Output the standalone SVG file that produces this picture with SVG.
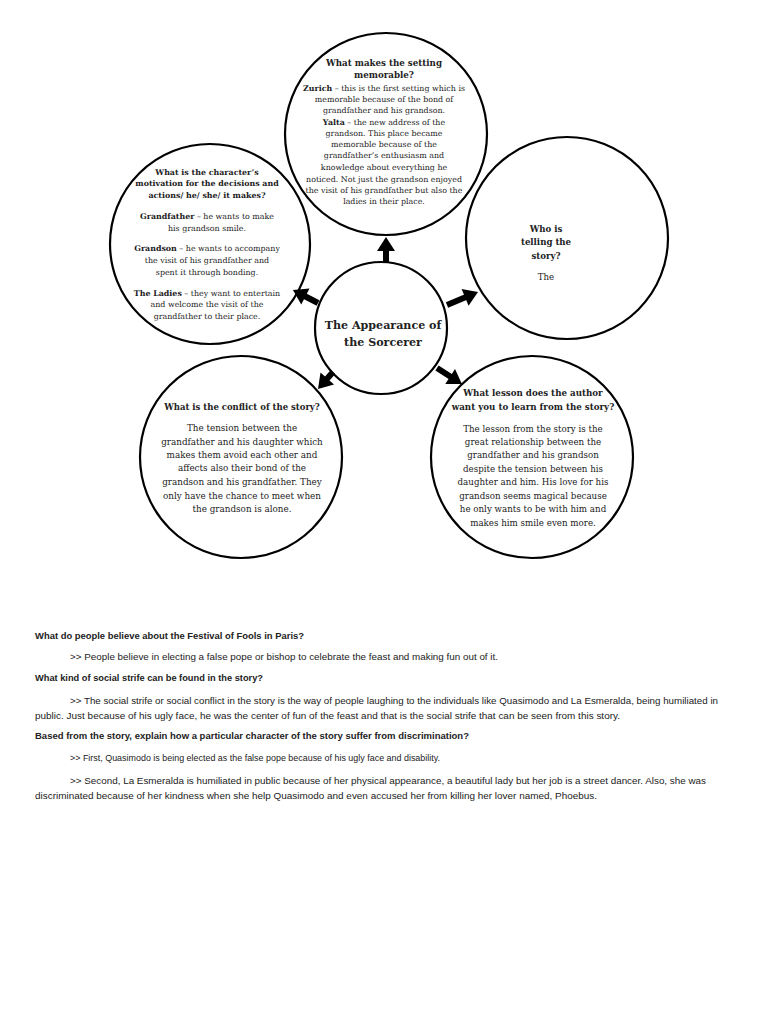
<svg xmlns="http://www.w3.org/2000/svg" width="768" height="1024" viewBox="0 0 768 1024">
<style>
.c{fill:#fff;stroke:#000;stroke-width:2.2}
.t{font-family:"DejaVu Serif","Liberation Serif",serif;fill:#222;text-anchor:middle}
.b{font-weight:bold}
.a{stroke:#000;stroke-width:6;fill:none;marker-end:url(#ah)}
.s{font-family:"Liberation Sans",Arial,sans-serif;font-size:8.2px;fill:#222}
</style>
<defs>
<marker id="ah" markerUnits="userSpaceOnUse" markerWidth="15" markerHeight="18" refX="1" refY="9" orient="auto" overflow="visible">
<path d="M0,0 L14,9 L0,18 Z" fill="#000"/>
</marker>
</defs>
<rect width="768" height="1024" fill="#fff"/>
<g id="setting">
<circle class="c" cx="386" cy="134" r="101"/>
<g class="t b" font-size="8.7">
<text x="384" y="66">What makes the setting</text>
<text x="384" y="78">memorable?</text>
</g>
<g class="t" font-size="7.9">
<text x="384" y="91"><tspan class="b">Zurich</tspan> – this is the first setting which is</text>
<text x="384" y="102">memorable because of the bond of</text>
<text x="384" y="113">grandfather and his grandson.</text>
<text x="384" y="125"><tspan class="b">Yalta</tspan> – the new address of the</text>
<text x="384" y="136">grandson. This place became</text>
<text x="384" y="147">memorable because of the</text>
<text x="384" y="158">grandfather’s enthusiasm and</text>
<text x="384" y="170">knowledge about everything he</text>
<text x="384" y="182">noticed. Not just the grandson enjoyed</text>
<text x="384" y="193">the visit of his grandfather but also the</text>
<text x="384" y="204">ladies in their place.</text>
</g>
</g>
<g id="motivation">
<circle class="c" cx="210" cy="244" r="100"/>
<g class="t b" font-size="7.9">
<text x="207" y="175">What is the character’s</text>
<text x="207" y="186">motivation for the decisions and</text>
<text x="207" y="198">actions/ he/ she/ it makes?</text>
</g>
<g class="t" font-size="7.9">
<text x="207" y="219"><tspan class="b">Grandfather</tspan> – he wants to make</text>
<text x="207" y="231">his grandson smile.</text>
<text x="207" y="251"><tspan class="b">Grandson</tspan> – he wants to accompany</text>
<text x="207" y="263">the visit of his grandfather and</text>
<text x="207" y="275">spent it through bonding.</text>
<text x="207" y="296"><tspan class="b">The Ladies</tspan> – they want to entertain</text>
<text x="207" y="307">and welcome the visit of the</text>
<text x="207" y="319">grandfather to their place.</text>
</g>
</g>
<g id="narrator">
<circle class="c" cx="567" cy="238" r="101"/>
<g class="t b" font-size="8.6">
<text x="546" y="232">Who is</text>
<text x="546" y="245">telling the</text>
<text x="546" y="259">story?</text>
</g>
<text class="t" font-size="8.6" x="546" y="280">The</text>
</g>
<g id="title">
<circle class="c" cx="381" cy="328" r="66"/>
<g class="t b" font-size="11.1">
<text x="383" y="329">The Appearance of</text>
<text x="383" y="346">the Sorcerer</text>
</g>
</g>
<g id="conflict">
<circle class="c" cx="241" cy="457" r="101"/>
<text class="t b" font-size="8.5" x="242" y="410">What is the conflict of the story?</text>
<g class="t" font-size="8.8">
<text x="242" y="431">The tension between the</text>
<text x="242" y="445">grandfather and his daughter which</text>
<text x="242" y="458">makes them avoid each other and</text>
<text x="242" y="471">affects also their bond of the</text>
<text x="242" y="485">grandson and his grandfather. They</text>
<text x="242" y="499">only have the chance to meet when</text>
<text x="242" y="512">the grandson is alone.</text>
</g>
</g>
<g id="lesson">
<circle class="c" cx="532" cy="457" r="101"/>
<g class="t b" font-size="8.7">
<text x="533" y="396">What lesson does the author</text>
<text x="533" y="410">want you to learn from the story?</text>
</g>
<g class="t" font-size="8.7">
<text x="533" y="432">The lesson from the story is the</text>
<text x="533" y="445">great relationship between the</text>
<text x="533" y="458">grandfather and his grandson</text>
<text x="533" y="472">despite the tension between his</text>
<text x="533" y="485">daughter and him. His love for his</text>
<text x="533" y="499">grandson seems magical because</text>
<text x="533" y="512">he only wants to be with him and</text>
<text x="533" y="526">makes him smile even more.</text>
</g>
</g>
<g id="connectors">
<line class="a" x1="386" y1="262" x2="386" y2="250"/>
<line class="a" x1="318" y1="303" x2="304.5" y2="296"/>
<line class="a" x1="447" y1="305" x2="466" y2="297"/>
<line class="a" x1="333" y1="372" x2="326.6" y2="379.3"/>
<line class="a" x1="437" y1="368" x2="451" y2="377"/>
</g>
<g id="questions">
<text class="s b" x="35" y="639" textLength="269" lengthAdjust="spacingAndGlyphs">What do people believe about the Festival of Fools in Paris?</text>
<text class="s" x="70" y="660" textLength="428" lengthAdjust="spacingAndGlyphs">&gt;&gt; People believe in electing a false pope or bishop to celebrate the feast and making fun out of it.</text>
<text class="s b" x="35" y="681" textLength="228" lengthAdjust="spacingAndGlyphs">What kind of social strife can be found in the story?</text>
<text class="s" x="70" y="704" textLength="648" lengthAdjust="spacingAndGlyphs">&gt;&gt; The social strife or social conflict in the story is the way of people laughing to the individuals like Quasimodo and La Esmeralda, being humiliated in</text>
<text class="s" x="35" y="719" textLength="585" lengthAdjust="spacingAndGlyphs">public. Just because of his ugly face, he was the center of fun of the feast and that is the social strife that can be seen from this story.</text>
<text class="s b" x="35" y="739" textLength="434" lengthAdjust="spacingAndGlyphs">Based from the story, explain how a particular character of the story suffer from discrimination?</text>
<text class="s" x="70" y="761" textLength="370" lengthAdjust="spacingAndGlyphs">&gt;&gt; First, Quasimodo is being elected as the false pope because of his ugly face and disability.</text>
<text class="s" x="70" y="784" textLength="636" lengthAdjust="spacingAndGlyphs">&gt;&gt; Second, La Esmeralda is humiliated in public because of her physical appearance, a beautiful lady but her job is a street dancer. Also, she was</text>
<text class="s" x="35" y="799" textLength="562" lengthAdjust="spacingAndGlyphs">discriminated because of her kindness when she help Quasimodo and even accused her from killing her lover named, Phoebus.</text>
</g>
</svg>
